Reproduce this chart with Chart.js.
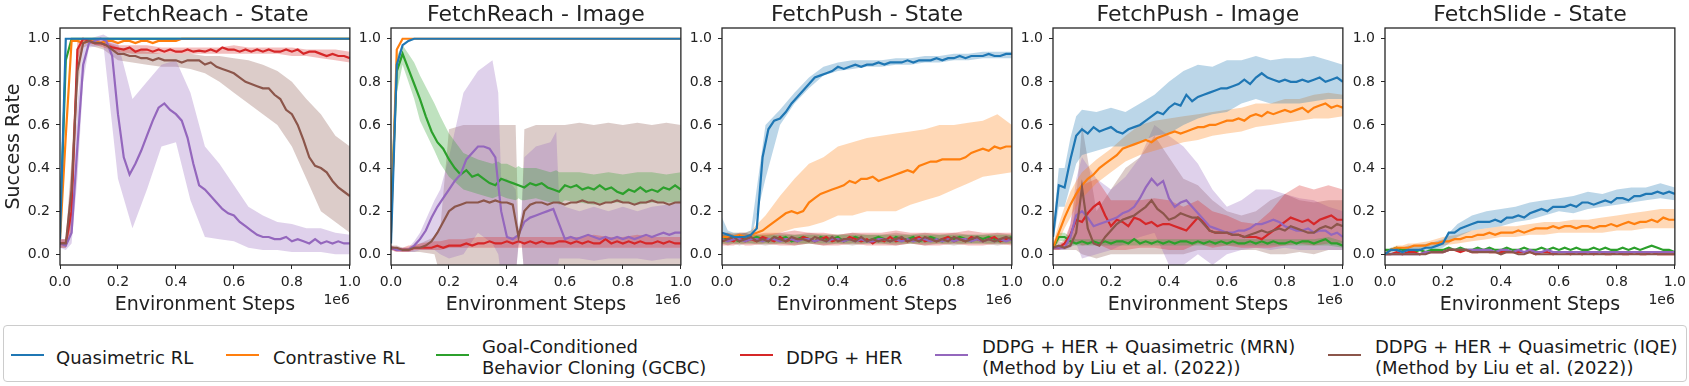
<!DOCTYPE html>
<html>
<head>
<meta charset="utf-8">
<script src="https://cdn.jsdelivr.net/npm/chart.js@4.4.1/dist/chart.umd.min.js"></script>
<style>
  body { margin: 0; background: #fff; width: 1689px; height: 386px; overflow: hidden; position: relative; font-family: "DejaVu Sans", sans-serif; }
  canvas { position: absolute; top: 0; }
  #legend { position: absolute; left: 3px; top: 325px; width: 1682px; height: 55px; border: 1px solid #cccccc; border-radius: 4px; background: #fff; }
  .handle { position: absolute; height: 2px; width: 33px; }
  .ltext { position: absolute; font-size: 18px; line-height: 21px; color: #1a1a1a; white-space: nowrap; }
</style>
</head>
<body>
<div id="legend"></div>
<script>
// grilles x (en millions de pas)
const steps = [
  0, 0.02, 0.04, 0.06, 0.08, 0.1, 0.12, 0.14, 0.16, 0.18,
  0.2, 0.22, 0.24, 0.26, 0.28, 0.3, 0.32, 0.34, 0.36, 0.38,
  0.4, 0.42, 0.44, 0.46, 0.48, 0.5, 0.52, 0.54, 0.56, 0.58,
  0.6, 0.62, 0.64, 0.66, 0.68, 0.7, 0.72, 0.74, 0.76, 0.78,
  0.8, 0.82, 0.84, 0.86, 0.88, 0.9, 0.92, 0.94, 0.96, 0.98,
  1.0
];
const bandSteps = [
  0, 0.02, 0.04, 0.06, 0.08, 0.1, 0.15, 0.2,
  0.25, 0.3, 0.35, 0.4, 0.45, 0.5, 0.55, 0.6,
  0.65, 0.7, 0.75, 0.8, 0.85, 0.9, 0.95, 1.0
];
const bandStepsReachImage = [
  0, 0.02, 0.04, 0.06, 0.08, 0.1, 0.15, 0.17,
  0.2, 0.25, 0.3, 0.35, 0.37, 0.38, 0.4, 0.43,
  0.44, 0.45, 0.46, 0.5, 0.55, 0.57, 0.58, 0.6,
  0.65, 0.7, 0.75, 0.8, 0.85, 0.9, 0.95, 1.0
];

const seriesNames = [
  ['Quasimetric RL'],
  ['Contrastive RL'],
  ['Goal-Conditioned', 'Behavior Cloning (GCBC)'],
  ['DDPG + HER'],
  ['DDPG + HER + Quasimetric (MRN)', '(Method by Liu et al. (2022))'],
  ['DDPG + HER + Quasimetric (IQE)', '(Method by Liu et al. (2022))']
];
const seriesColors = ['#1f77b4', '#ff7f0e', '#2ca02c', '#d62728', '#9467bd', '#8c564b'];
const panelTitles = ['FetchReach - State', 'FetchReach - Image', 'FetchPush - State', 'FetchPush - Image', 'FetchSlide - State'];
const xTicks = [0, 0.2, 0.4, 0.6, 0.8, 1.0];
const yTicks = [0, 0.2, 0.4, 0.6, 0.8, 1.0];
const xLabel = 'Environment Steps';
const xOffsetLabel = '1e6';
const yLabel = 'Success Rate';

// ---- FetchReach - State ----
const reachState_qrl = [
  0.07, 1, 1, 1, 1, 1, 1, 1, 1, 1,
  1, 1, 1, 1, 1, 1, 1, 1, 1, 1,
  1, 1, 1, 1, 1, 1, 1, 1, 1, 1,
  1, 1, 1, 1, 1, 1, 1, 1, 1, 1,
  1, 1, 1, 1, 1, 1, 1, 1, 1, 1,
  1
];
const reachState_crl = [
  0.07, 0.55, 0.99, 0.99, 0.98, 0.99, 0.99, 0.98, 0.99, 0.99,
  0.98, 0.99, 0.99, 0.98, 0.99, 0.99, 0.98, 0.99, 0.99, 0.99,
  0.99, 1, 1, 1, 1, 1, 1, 1, 1, 1,
  1, 1, 1, 1, 1, 1, 1, 1, 1, 1,
  1, 1, 1, 1, 1, 1, 1, 1, 1, 1,
  1
];
const reachState_gcbc = [
  0.1, 0.9, 1, 1, 1, 1, 1, 1, 1, 1,
  1, 1, 1, 1, 1, 1, 1, 1, 1, 1,
  1, 1, 1, 1, 1, 1, 1, 1, 1, 1,
  1, 1, 1, 1, 1, 1, 1, 1, 1, 1,
  1, 1, 1, 1, 1, 1, 1, 1, 1, 1,
  1
];
const reachState_her = [
  0.05, 0.05, 0.2, 0.95, 1, 0.99, 0.98, 0.98, 0.97, 0.96,
  0.955, 0.95, 0.96, 0.94, 0.95, 0.95, 0.94, 0.95, 0.94, 0.95,
  0.94, 0.94, 0.95, 0.94, 0.945, 0.94, 0.95, 0.94, 0.96, 0.95,
  0.95, 0.94, 0.95, 0.94, 0.95, 0.94, 0.95, 0.94, 0.94, 0.95,
  0.94, 0.95, 0.93, 0.94, 0.94, 0.93, 0.92, 0.93, 0.92, 0.92,
  0.91
];
const reachState_mrn = [
  0.05, 0.04, 0.1, 0.5, 0.88, 0.98, 0.99, 1, 0.99, 0.92,
  0.65, 0.45, 0.37, 0.42, 0.48, 0.55, 0.62, 0.68, 0.7, 0.67,
  0.65, 0.62, 0.54, 0.42, 0.32, 0.3, 0.27, 0.24, 0.21, 0.19,
  0.18, 0.15, 0.13, 0.11, 0.09, 0.08, 0.08, 0.07, 0.07, 0.08,
  0.06, 0.07, 0.06, 0.05, 0.07, 0.05, 0.06, 0.05, 0.06, 0.05,
  0.05
];
const reachState_iqe = [
  0.05, 0.05, 0.3, 0.85, 0.98, 0.99, 0.98, 0.98, 0.97, 0.95,
  0.93, 0.93, 0.92, 0.92, 0.91, 0.91, 0.9, 0.91, 0.9, 0.9,
  0.9, 0.89, 0.9, 0.9, 0.9, 0.88, 0.89, 0.87, 0.86, 0.85,
  0.84, 0.82, 0.8, 0.79, 0.78, 0.77, 0.77, 0.74, 0.72, 0.67,
  0.65, 0.6, 0.53, 0.45, 0.41, 0.4, 0.38, 0.34, 0.31, 0.29,
  0.27
];
const reachState_her_lo = [0.03, 0.03, 0.1, 0.9, 0.98, 0.98, 0.96, 0.94, 0.93, 0.93, 0.93, 0.93, 0.93, 0.93, 0.93, 0.93, 0.93, 0.93, 0.93, 0.92, 0.92, 0.91, 0.9, 0.89];
const reachState_her_hi = [0.07, 0.07, 0.4, 1, 1, 1, 0.99, 0.97, 0.97, 0.97, 0.96, 0.96, 0.96, 0.96, 0.96, 0.97, 0.96, 0.96, 0.96, 0.96, 0.95, 0.95, 0.95, 0.94];
const reachState_mrn_lo = [0.03, 0.02, 0.05, 0.35, 0.8, 0.96, 0.97, 0.35, 0.12, 0.3, 0.5, 0.52, 0.25, 0.08, 0.07, 0.06, 0.03, 0.02, 0.02, 0.01, 0.01, 0.01, 0, 0];
const reachState_mrn_hi = [0.07, 0.07, 0.25, 0.7, 0.97, 1, 1.02, 0.98, 0.72, 0.8, 0.88, 0.9, 0.75, 0.5, 0.42, 0.32, 0.22, 0.18, 0.15, 0.14, 0.12, 0.12, 0.1, 0.09];
const reachState_iqe_lo = [0.03, 0.03, 0.15, 0.75, 0.96, 0.97, 0.95, 0.9, 0.89, 0.88, 0.87, 0.87, 0.86, 0.84, 0.8, 0.75, 0.7, 0.65, 0.6, 0.5, 0.35, 0.2, 0.15, 0.1];
const reachState_iqe_hi = [0.07, 0.07, 0.45, 0.95, 1, 1, 0.99, 0.96, 0.95, 0.94, 0.93, 0.93, 0.93, 0.92, 0.92, 0.91, 0.9, 0.88, 0.85, 0.8, 0.72, 0.65, 0.55, 0.5];

// ---- FetchReach - Image ----
const reachImage_qrl = [
  0.05, 0.88, 0.97, 0.99, 1, 1, 1, 1, 1, 1,
  1, 1, 1, 1, 1, 1, 1, 1, 1, 1,
  1, 1, 1, 1, 1, 1, 1, 1, 1, 1,
  1, 1, 1, 1, 1, 1, 1, 1, 1, 1,
  1, 1, 1, 1, 1, 1, 1, 1, 1, 1,
  1
];
const reachImage_crl = [
  0.1, 0.95, 1, 1, 1, 1, 1, 1, 1, 1,
  1, 1, 1, 1, 1, 1, 1, 1, 1, 1,
  1, 1, 1, 1, 1, 1, 1, 1, 1, 1,
  1, 1, 1, 1, 1, 1, 1, 1, 1, 1,
  1, 1, 1, 1, 1, 1, 1, 1, 1, 1,
  1
];
const reachImage_gcbc = [
  0.18, 0.85, 0.93, 0.86, 0.79, 0.72, 0.64, 0.57, 0.52, 0.49,
  0.44, 0.4, 0.37, 0.39, 0.36, 0.37, 0.35, 0.33, 0.32, 0.35,
  0.34, 0.33, 0.32, 0.31, 0.33, 0.32, 0.33, 0.31, 0.3, 0.29,
  0.32, 0.31, 0.32, 0.3, 0.31, 0.3, 0.32, 0.3, 0.31, 0.29,
  0.28, 0.3, 0.29, 0.31, 0.29, 0.3, 0.29, 0.31, 0.3, 0.32,
  0.3
];
const reachImage_her = [
  0.03, 0.02, 0.02, 0.02, 0.03, 0.03, 0.03, 0.03, 0.04, 0.03,
  0.04, 0.04, 0.04, 0.05, 0.04, 0.05, 0.05, 0.06, 0.05, 0.05,
  0.06, 0.05, 0.06, 0.05, 0.06, 0.05, 0.06, 0.05, 0.05, 0.06,
  0.06, 0.05, 0.06, 0.05, 0.06, 0.05, 0.05, 0.07, 0.05, 0.06,
  0.05, 0.06, 0.05, 0.06, 0.05, 0.05, 0.06, 0.05, 0.06, 0.05,
  0.05
];
const reachImage_mrn = [
  0.03, 0.02, 0.02, 0.02, 0.04, 0.07, 0.11, 0.17, 0.22, 0.26,
  0.3, 0.34, 0.37, 0.44, 0.47, 0.5, 0.5, 0.49, 0.45, 0.2,
  0.08, 0.07, 0.09, 0.15, 0.17, 0.18, 0.19, 0.2, 0.21, 0.14,
  0.07, 0.08, 0.07, 0.08, 0.09, 0.08, 0.07, 0.08, 0.07, 0.08,
  0.07, 0.08, 0.07, 0.08, 0.09, 0.08, 0.09, 0.1, 0.09, 0.1,
  0.1
];
const reachImage_iqe = [
  0.03, 0.03, 0.02, 0.02, 0.03, 0.03, 0.04, 0.06, 0.1, 0.15,
  0.2, 0.22, 0.23, 0.24, 0.24, 0.24, 0.25, 0.24, 0.25, 0.24,
  0.24, 0.23, 0.08, 0.2, 0.23, 0.24, 0.24, 0.23, 0.24, 0.24,
  0.23, 0.24, 0.24, 0.25, 0.24, 0.24, 0.23, 0.24, 0.24, 0.25,
  0.24, 0.24, 0.23, 0.24, 0.24, 0.25, 0.24, 0.24, 0.23, 0.24,
  0.24
];
const reachImage_gcbc_lo = [0.12, 0.75, 0.88, 0.8, 0.72, 0.62, 0.48, 0.42, 0.36, 0.3, 0.28, 0.26, 0.27, 0.27, 0.26, 0.25, 0.26, 0.25, 0.25, 0.26, 0.24, 0.24, 0.23, 0.25, 0.24, 0.23, 0.24, 0.24, 0.23, 0.24, 0.24, 0.24];
const reachImage_gcbc_hi = [0.25, 0.92, 0.97, 0.93, 0.89, 0.83, 0.7, 0.64, 0.56, 0.47, 0.44, 0.42, 0.43, 0.42, 0.42, 0.4, 0.41, 0.4, 0.4, 0.4, 0.38, 0.39, 0.38, 0.38, 0.38, 0.37, 0.38, 0.37, 0.38, 0.38, 0.37, 0.38];
const reachImage_her_lo = [0.02, 0.01, 0.01, 0.01, 0.02, 0.02, 0.02, 0.02, 0.03, 0.03, 0.03, 0.03, 0.03, 0.03, 0.03, 0.03, 0.03, 0.03, 0.03, 0.03, 0.03, 0.03, 0.03, 0.03, 0.03, 0.03, 0.03, 0.03, 0.03, 0.03, 0.03, 0.03];
const reachImage_her_hi = [0.04, 0.03, 0.03, 0.04, 0.04, 0.05, 0.06, 0.06, 0.07, 0.07, 0.08, 0.08, 0.08, 0.08, 0.08, 0.08, 0.08, 0.08, 0.08, 0.08, 0.08, 0.08, 0.08, 0.08, 0.08, 0.09, 0.08, 0.08, 0.09, 0.08, 0.08, 0.08];
const reachImage_mrn_lo = [0.02, 0.01, 0.01, 0.01, 0.01, 0.02, 0.02, 0, -0.02, 0, 0.1, 0.05, 0, -0.1, -0.1, -0.1, 0.04, 0.06, -0.1, -0.1, -0.1, -0.1, -0.02, -0.02, -0.02, -0.03, -0.02, -0.02, -0.02, -0.03, -0.02, -0.02];
const reachImage_mrn_hi = [0.04, 0.03, 0.03, 0.03, 0.06, 0.1, 0.25, 0.3, 0.45, 0.75, 0.85, 0.9, 0.75, 0.35, 0.35, 0.3, 0.12, 0.2, 0.45, 0.5, 0.52, 0.57, 0.25, 0.22, 0.2, 0.22, 0.2, 0.22, 0.2, 0.22, 0.23, 0.25];
const reachImage_iqe_lo = [0.02, 0.02, 0.01, 0.01, 0.01, 0.01, 0, -0.1, -0.1, -0.1, -0.1, -0.1, -0.1, -0.1, -0.1, -0.1, 0.05, 0.06, -0.1, -0.1, -0.1, -0.1, -0.1, -0.1, -0.1, -0.1, -0.1, -0.1, -0.1, -0.1, -0.1, -0.1];
const reachImage_iqe_hi = [0.04, 0.04, 0.03, 0.03, 0.04, 0.05, 0.08, 0.12, 0.58, 0.6, 0.6, 0.6, 0.6, 0.6, 0.6, 0.6, 0.1, 0.12, 0.58, 0.6, 0.6, 0.6, 0.6, 0.6, 0.61, 0.6, 0.61, 0.6, 0.61, 0.6, 0.61, 0.6];

// ---- FetchPush - State ----
const pushState_qrl = [
  0.1, 0.09, 0.08, 0.08, 0.08, 0.09, 0.12, 0.45, 0.58, 0.62,
  0.63, 0.66, 0.7, 0.73, 0.76, 0.79, 0.82, 0.83, 0.84, 0.85,
  0.87, 0.86, 0.87, 0.88, 0.87, 0.88, 0.88, 0.89, 0.88, 0.89,
  0.89, 0.89, 0.9, 0.89, 0.9, 0.9, 0.9, 0.91, 0.9, 0.91,
  0.91, 0.92, 0.91, 0.92, 0.92, 0.92, 0.93, 0.92, 0.92, 0.93,
  0.93
];
const pushState_crl = [
  0.08, 0.08, 0.08, 0.09, 0.08, 0.09, 0.1, 0.11, 0.13, 0.15,
  0.17, 0.19, 0.2, 0.19, 0.2, 0.24, 0.26, 0.28, 0.29, 0.3,
  0.31, 0.32, 0.34, 0.33, 0.35, 0.35, 0.36, 0.34, 0.35, 0.36,
  0.37, 0.38, 0.39, 0.38, 0.41, 0.42, 0.43, 0.43, 0.44, 0.44,
  0.44, 0.44, 0.45, 0.47, 0.48, 0.49, 0.48, 0.5, 0.49, 0.5,
  0.5
];
const pushState_gcbc = [
  0.07, 0.08, 0.07, 0.06, 0.08, 0.07, 0.08, 0.07, 0.06, 0.08,
  0.07, 0.08, 0.06, 0.07, 0.08, 0.07, 0.06, 0.08, 0.07, 0.07,
  0.08, 0.06, 0.07, 0.08, 0.07, 0.06, 0.07, 0.08, 0.07, 0.06,
  0.08, 0.07, 0.07, 0.08, 0.06, 0.07, 0.08, 0.07, 0.06, 0.08,
  0.07, 0.08, 0.07, 0.06, 0.08, 0.07, 0.08, 0.07, 0.06, 0.07,
  0.08
];
const pushState_her = [
  0.06, 0.07, 0.06, 0.08, 0.06, 0.07, 0.06, 0.08, 0.07, 0.06,
  0.08, 0.06, 0.07, 0.06, 0.08, 0.07, 0.06, 0.07, 0.08, 0.06,
  0.07, 0.06, 0.08, 0.07, 0.06, 0.07, 0.05, 0.07, 0.06, 0.08,
  0.06, 0.07, 0.06, 0.07, 0.08, 0.06, 0.07, 0.06, 0.07, 0.08,
  0.06, 0.07, 0.06, 0.08, 0.07, 0.06, 0.07, 0.08, 0.06, 0.07,
  0.07
];
const pushState_mrn = [
  0.07, 0.06, 0.07, 0.07, 0.06, 0.07, 0.07, 0.06, 0.07, 0.07,
  0.06, 0.07, 0.07, 0.06, 0.07, 0.07, 0.06, 0.07, 0.06, 0.07,
  0.07, 0.06, 0.07, 0.06, 0.07, 0.06, 0.06, 0.07, 0.07, 0.06,
  0.07, 0.06, 0.07, 0.06, 0.07, 0.07, 0.06, 0.07, 0.06, 0.07,
  0.06, 0.07, 0.07, 0.06, 0.07, 0.06, 0.07, 0.06, 0.07, 0.06,
  0.07
];
const pushState_iqe = [
  0.06, 0.07, 0.08, 0.06, 0.07, 0.08, 0.06, 0.07, 0.06, 0.08,
  0.07, 0.06, 0.08, 0.07, 0.07, 0.06, 0.08, 0.07, 0.06, 0.08,
  0.06, 0.07, 0.07, 0.06, 0.08, 0.06, 0.07, 0.06, 0.07, 0.06,
  0.07, 0.08, 0.06, 0.07, 0.06, 0.08, 0.07, 0.06, 0.07, 0.06,
  0.08, 0.07, 0.06, 0.07, 0.08, 0.06, 0.07, 0.06, 0.07, 0.08,
  0.07
];
const pushState_qrl_lo = [0.06, 0.07, 0.07, 0.07, 0.07, 0.07, 0.35, 0.6, 0.7, 0.77, 0.83, 0.85, 0.86, 0.87, 0.87, 0.88, 0.88, 0.89, 0.89, 0.9, 0.9, 0.91, 0.91, 0.91];
const pushState_qrl_hi = [0.17, 0.11, 0.1, 0.1, 0.1, 0.11, 0.6, 0.67, 0.75, 0.82, 0.87, 0.89, 0.9, 0.9, 0.9, 0.91, 0.91, 0.92, 0.92, 0.93, 0.93, 0.94, 0.94, 0.94];
const pushState_crl_lo = [0.06, 0.06, 0.06, 0.06, 0.07, 0.07, 0.08, 0.1, 0.12, 0.13, 0.15, 0.18, 0.18, 0.2, 0.2, 0.2, 0.23, 0.25, 0.27, 0.3, 0.33, 0.36, 0.37, 0.38];
const pushState_crl_hi = [0.1, 0.1, 0.1, 0.1, 0.1, 0.11, 0.18, 0.27, 0.35, 0.42, 0.45, 0.5, 0.52, 0.54, 0.55, 0.56, 0.57, 0.58, 0.6, 0.6, 0.61, 0.62, 0.65, 0.6];
const pushState_gcbc_lo = [0.05, 0.05, 0.05, 0.05, 0.05, 0.05, 0.05, 0.05, 0.05, 0.05, 0.05, 0.05, 0.05, 0.05, 0.05, 0.05, 0.05, 0.05, 0.05, 0.05, 0.05, 0.05, 0.05, 0.05];
const pushState_gcbc_hi = [0.09, 0.09, 0.09, 0.09, 0.09, 0.09, 0.09, 0.09, 0.09, 0.09, 0.09, 0.09, 0.09, 0.09, 0.09, 0.09, 0.09, 0.09, 0.09, 0.09, 0.09, 0.09, 0.09, 0.09];
const pushState_her_lo = [0.04, 0.04, 0.04, 0.05, 0.04, 0.04, 0.05, 0.04, 0.04, 0.05, 0.04, 0.04, 0.05, 0.04, 0.04, 0.04, 0.05, 0.04, 0.04, 0.05, 0.04, 0.04, 0.05, 0.04];
const pushState_her_hi = [0.1, 0.1, 0.09, 0.1, 0.1, 0.09, 0.1, 0.1, 0.11, 0.1, 0.1, 0.09, 0.1, 0.1, 0.1, 0.11, 0.1, 0.1, 0.1, 0.1, 0.11, 0.1, 0.1, 0.1];
const pushState_iqe_lo = [0.05, 0.04, 0.05, 0.04, 0.05, 0.05, 0.04, 0.05, 0.04, 0.05, 0.04, 0.05, 0.04, 0.05, 0.05, 0.04, 0.05, 0.04, 0.05, 0.04, 0.05, 0.05, 0.04, 0.05];
const pushState_iqe_hi = [0.09, 0.1, 0.09, 0.09, 0.1, 0.09, 0.09, 0.1, 0.09, 0.1, 0.09, 0.09, 0.1, 0.09, 0.09, 0.1, 0.09, 0.1, 0.09, 0.1, 0.09, 0.09, 0.1, 0.09];

// ---- FetchPush - Image ----
const pushImage_qrl = [
  0.08, 0.32, 0.31, 0.44, 0.55, 0.58, 0.56, 0.59, 0.57, 0.58,
  0.59, 0.57, 0.56, 0.58, 0.59, 0.6, 0.62, 0.64, 0.66, 0.65,
  0.68, 0.7, 0.69, 0.74, 0.71, 0.73, 0.74, 0.75, 0.76, 0.77,
  0.77, 0.78, 0.79, 0.81, 0.79, 0.82, 0.84, 0.82, 0.81, 0.8,
  0.81, 0.8, 0.8, 0.81, 0.8, 0.81, 0.82, 0.8, 0.81, 0.82,
  0.8
];
const pushImage_crl = [
  0.03, 0.1, 0.17, 0.23, 0.28, 0.32, 0.35, 0.37, 0.4, 0.42,
  0.44, 0.46, 0.49, 0.5, 0.51, 0.52, 0.53, 0.52, 0.54, 0.55,
  0.56, 0.57, 0.56, 0.57, 0.58, 0.59, 0.59, 0.6, 0.6, 0.61,
  0.62, 0.62, 0.63, 0.62, 0.64, 0.65, 0.64, 0.66, 0.65, 0.66,
  0.67, 0.66, 0.67, 0.68, 0.66, 0.68, 0.69, 0.7, 0.68, 0.69,
  0.68
];
const pushImage_gcbc = [
  0.03, 0.08, 0.08, 0.06, 0.05, 0.06, 0.05, 0.06, 0.05, 0.06,
  0.05, 0.06, 0.06, 0.05, 0.07, 0.05, 0.06, 0.05, 0.06, 0.05,
  0.06, 0.05, 0.06, 0.06, 0.05, 0.06, 0.05, 0.06, 0.05, 0.06,
  0.05, 0.06, 0.05, 0.05, 0.06, 0.05, 0.06, 0.05, 0.06, 0.05,
  0.05, 0.06, 0.05, 0.06, 0.06, 0.05, 0.06, 0.07, 0.05, 0.05,
  0.04
];
const pushImage_her = [
  0.03, 0.03, 0.05, 0.09, 0.16, 0.15, 0.19, 0.22, 0.24, 0.18,
  0.13, 0.16, 0.15, 0.13, 0.17, 0.16, 0.14, 0.15, 0.13, 0.14,
  0.14, 0.13, 0.12, 0.11, 0.14, 0.17, 0.15, 0.11, 0.1, 0.1,
  0.1, 0.09, 0.09, 0.08, 0.08, 0.08, 0.07, 0.09, 0.11, 0.13,
  0.15, 0.17, 0.16, 0.15, 0.16, 0.14, 0.16, 0.17, 0.18, 0.16,
  0.16
];
const pushImage_mrn = [
  0.03, 0.03, 0.03, 0.08, 0.18, 0.2, 0.17, 0.13, 0.14, 0.15,
  0.16, 0.17, 0.19, 0.2, 0.22, 0.26, 0.31, 0.35, 0.32, 0.34,
  0.26, 0.22, 0.24, 0.25, 0.22, 0.19, 0.16, 0.13, 0.12, 0.11,
  0.1, 0.1, 0.11, 0.11, 0.12, 0.14, 0.14, 0.15, 0.16, 0.15,
  0.13, 0.12, 0.11, 0.11, 0.12, 0.1, 0.11, 0.11, 0.09, 0.1,
  0.08
];
const pushImage_iqe = [
  0.03, 0.04, 0.03, 0.04, 0.1, 0.31, 0.12, 0.05, 0.04, 0.08,
  0.11, 0.14, 0.16, 0.17, 0.18, 0.2, 0.22, 0.25, 0.21, 0.19,
  0.16, 0.17, 0.19, 0.18, 0.17, 0.17, 0.14, 0.11, 0.1, 0.1,
  0.1, 0.09, 0.09, 0.08, 0.09, 0.1, 0.11, 0.1, 0.11, 0.12,
  0.11, 0.13, 0.12, 0.11, 0.1, 0.1, 0.12, 0.13, 0.12, 0.14,
  0.13
];
const pushImage_qrl_lo = [0.05, 0.22, 0.22, 0.32, 0.42, 0.46, 0.48, 0.5, 0.5, 0.52, 0.55, 0.56, 0.6, 0.63, 0.65, 0.66, 0.7, 0.72, 0.7, 0.7, 0.7, 0.71, 0.72, 0.72];
const pushImage_qrl_hi = [0.12, 0.4, 0.4, 0.54, 0.64, 0.67, 0.66, 0.68, 0.66, 0.7, 0.74, 0.8, 0.85, 0.88, 0.87, 0.9, 0.9, 0.92, 0.9, 0.91, 0.91, 0.92, 0.9, 0.88];
const pushImage_crl_lo = [0.02, 0.06, 0.12, 0.17, 0.22, 0.26, 0.33, 0.38, 0.43, 0.46, 0.48, 0.5, 0.52, 0.53, 0.55, 0.56, 0.57, 0.59, 0.6, 0.61, 0.62, 0.63, 0.63, 0.64];
const pushImage_crl_hi = [0.05, 0.14, 0.22, 0.29, 0.34, 0.38, 0.44, 0.49, 0.55, 0.6, 0.62, 0.63, 0.64, 0.65, 0.66, 0.67, 0.68, 0.7, 0.7, 0.72, 0.72, 0.74, 0.75, 0.74];
const pushImage_gcbc_lo = [0.02, 0.06, 0.06, 0.04, 0.04, 0.04, 0.04, 0.04, 0.04, 0.04, 0.04, 0.04, 0.04, 0.04, 0.04, 0.04, 0.04, 0.04, 0.04, 0.04, 0.04, 0.04, 0.04, 0.03];
const pushImage_gcbc_hi = [0.04, 0.1, 0.1, 0.08, 0.07, 0.07, 0.07, 0.07, 0.07, 0.07, 0.07, 0.07, 0.07, 0.07, 0.07, 0.07, 0.07, 0.07, 0.07, 0.07, 0.07, 0.07, 0.08, 0.06];
const pushImage_her_lo = [0.02, 0.02, 0.03, 0.04, 0.06, 0.04, 0.05, 0.02, 0.02, 0.03, 0.03, 0.02, 0.02, 0.05, 0.03, 0.04, 0.03, 0.03, 0.03, 0.04, 0.05, 0.04, 0.05, 0.05];
const pushImage_her_hi = [0.04, 0.04, 0.07, 0.14, 0.3, 0.32, 0.35, 0.25, 0.25, 0.25, 0.26, 0.25, 0.22, 0.25, 0.2, 0.18, 0.15, 0.14, 0.2, 0.28, 0.32, 0.3, 0.32, 0.3];
const pushImage_mrn_lo = [0.02, 0.02, 0.02, 0.03, 0.05, -0.02, 0, 0.02, 0.05, 0.08, 0.1, -0.05, -0.05, 0, -0.05, 0, 0.02, 0.03, 0.02, 0.03, 0.02, 0.02, 0.02, 0.02];
const pushImage_mrn_hi = [0.04, 0.04, 0.04, 0.14, 0.35, 0.45, 0.35, 0.3, 0.36, 0.45, 0.6, 0.55, 0.5, 0.42, 0.3, 0.22, 0.25, 0.3, 0.3, 0.28, 0.26, 0.25, 0.22, 0.2];
const pushImage_iqe_lo = [0.02, 0.02, 0.02, 0.02, 0.02, 0, -0.02, 0, 0, 0, 0, 0, 0, 0.02, 0.02, 0.02, 0.02, 0.02, 0, 0, 0.01, 0, 0.02, 0.02];
const pushImage_iqe_hi = [0.04, 0.06, 0.05, 0.06, 0.25, 0.6, 0.2, 0.3, 0.4, 0.45, 0.55, 0.45, 0.35, 0.32, 0.25, 0.2, 0.18, 0.2, 0.25, 0.28, 0.25, 0.24, 0.25, 0.25];

// ---- FetchSlide - State ----
const slideState_qrl = [
  0, 0.02, 0.02, 0.01, 0.02, 0.02, 0.02, 0.03, 0.03, 0.04,
  0.05, 0.1, 0.1, 0.12, 0.13, 0.14, 0.15, 0.15, 0.15, 0.16,
  0.15, 0.17, 0.17, 0.18, 0.17, 0.19, 0.2, 0.21, 0.2, 0.22,
  0.22, 0.22, 0.23, 0.22, 0.24, 0.24, 0.23, 0.24, 0.25, 0.24,
  0.26, 0.26, 0.25, 0.27, 0.27, 0.28, 0.28, 0.29, 0.28, 0.29,
  0.28
];
const slideState_crl = [
  0, 0.02, 0.03, 0.03, 0.03, 0.04, 0.04, 0.04, 0.05, 0.05,
  0.06, 0.06, 0.07, 0.07, 0.08, 0.08, 0.09, 0.09, 0.1, 0.09,
  0.1, 0.1, 0.1, 0.11, 0.1, 0.11, 0.12, 0.12, 0.12, 0.13,
  0.12, 0.13, 0.13, 0.12, 0.13, 0.13, 0.12, 0.13, 0.13, 0.14,
  0.13, 0.14, 0.15, 0.14, 0.15, 0.15, 0.16, 0.15, 0.17, 0.16,
  0.16
];
const slideState_gcbc = [
  0.02, 0.02, 0.03, 0.02, 0.02, 0.01, 0.02, 0.01, 0.02, 0.02,
  0.02, 0.03, 0.02, 0.03, 0.02, 0.02, 0.03, 0.02, 0.03, 0.02,
  0.02, 0.03, 0.02, 0.02, 0.03, 0.02, 0.02, 0.03, 0.02, 0.03,
  0.02, 0.03, 0.02, 0.03, 0.02, 0.02, 0.03, 0.02, 0.03, 0.02,
  0.02, 0.03, 0.02, 0.03, 0.02, 0.03, 0.04, 0.03, 0.02, 0.02,
  0.01
];
const slideState_her = [
  0, 0, 0.01, 0, 0.01, 0.01, 0, 0.01, 0.01, 0.01,
  0.01, 0.02, 0.02, 0.01, 0.02, 0.01, 0.01, 0.02, 0.01, 0.01,
  0.01, 0.01, 0.01, 0.01, 0.01, 0.01, 0, 0.01, 0.01, 0,
  0.01, 0.01, 0, 0.01, 0, 0.01, 0, 0.01, 0, 0,
  0.01, 0, 0, 0.01, 0, 0, 0.01, 0, 0, 0,
  0
];
const slideState_mrn = [
  0, 0, 0, 0, 0, 0, 0, 0.01, 0.01, 0.01,
  0.01, 0.02, 0.02, 0.02, 0.02, 0.02, 0.02, 0.02, 0.02, 0.01,
  0.02, 0.02, 0.01, 0.02, 0.01, 0.02, 0.01, 0.01, 0.02, 0.01,
  0.01, 0.01, 0.01, 0.01, 0.01, 0.01, 0.01, 0.01, 0.01, 0.01,
  0.01, 0.01, 0.01, 0.01, 0.01, 0.01, 0.01, 0.01, 0.01, 0.01,
  0.01
];
const slideState_iqe = [
  0, 0, 0, 0, 0, 0, 0, 0, 0.01, 0.01,
  0.01, 0.02, 0.02, 0.02, 0.02, 0.01, 0.01, 0.01, 0.01, 0.01,
  0, 0.01, 0.01, 0, 0, 0.01, 0, 0, 0, 0,
  0, 0, 0, 0, 0, 0, 0, 0, 0, 0,
  0, 0, 0, 0, 0, 0, 0, 0, 0, 0,
  0
];
const slideState_qrl_lo = [0, 0, 0, 0, 0, 0.01, 0.02, 0.03, 0.08, 0.11, 0.12, 0.13, 0.15, 0.16, 0.18, 0.2, 0.19, 0.21, 0.22, 0.23, 0.24, 0.25, 0.26, 0.25];
const slideState_qrl_hi = [0.01, 0.03, 0.03, 0.03, 0.04, 0.04, 0.05, 0.07, 0.14, 0.18, 0.2, 0.21, 0.22, 0.24, 0.25, 0.26, 0.27, 0.29, 0.28, 0.3, 0.31, 0.31, 0.33, 0.31];
const slideState_crl_lo = [0, 0.01, 0.02, 0.02, 0.02, 0.02, 0.03, 0.04, 0.05, 0.06, 0.07, 0.08, 0.08, 0.09, 0.09, 0.1, 0.1, 0.1, 0.1, 0.11, 0.11, 0.12, 0.12, 0.12];
const slideState_crl_hi = [0.01, 0.03, 0.04, 0.04, 0.05, 0.05, 0.06, 0.08, 0.09, 0.11, 0.12, 0.13, 0.13, 0.14, 0.15, 0.15, 0.16, 0.16, 0.17, 0.18, 0.19, 0.2, 0.21, 0.21];

// placement des panneaux (bord gauche de la zone de tracé)
const plotLefts = [60, 391, 722, 1053, 1385];
const plotWidth = 290;
const axisWidth = 60;
const rightPad = 16;
const canvasHeight = 320;

const panels = [
  { lines: [reachState_qrl, reachState_crl, reachState_gcbc, reachState_her, reachState_mrn, reachState_iqe],
    bandX: bandSteps,
    bands: { 3: [reachState_her_lo, reachState_her_hi], 4: [reachState_mrn_lo, reachState_mrn_hi], 5: [reachState_iqe_lo, reachState_iqe_hi] } },
  { lines: [reachImage_qrl, reachImage_crl, reachImage_gcbc, reachImage_her, reachImage_mrn, reachImage_iqe],
    bandX: bandStepsReachImage,
    bands: { 2: [reachImage_gcbc_lo, reachImage_gcbc_hi], 3: [reachImage_her_lo, reachImage_her_hi], 4: [reachImage_mrn_lo, reachImage_mrn_hi], 5: [reachImage_iqe_lo, reachImage_iqe_hi] } },
  { lines: [pushState_qrl, pushState_crl, pushState_gcbc, pushState_her, pushState_mrn, pushState_iqe],
    bandX: bandSteps,
    bands: { 0: [pushState_qrl_lo, pushState_qrl_hi], 1: [pushState_crl_lo, pushState_crl_hi], 2: [pushState_gcbc_lo, pushState_gcbc_hi], 3: [pushState_her_lo, pushState_her_hi], 5: [pushState_iqe_lo, pushState_iqe_hi] } },
  { lines: [pushImage_qrl, pushImage_crl, pushImage_gcbc, pushImage_her, pushImage_mrn, pushImage_iqe],
    bandX: bandSteps,
    bands: { 0: [pushImage_qrl_lo, pushImage_qrl_hi], 1: [pushImage_crl_lo, pushImage_crl_hi], 2: [pushImage_gcbc_lo, pushImage_gcbc_hi], 3: [pushImage_her_lo, pushImage_her_hi], 4: [pushImage_mrn_lo, pushImage_mrn_hi], 5: [pushImage_iqe_lo, pushImage_iqe_hi] } },
  { lines: [slideState_qrl, slideState_crl, slideState_gcbc, slideState_her, slideState_mrn, slideState_iqe],
    bandX: bandSteps,
    bands: { 0: [slideState_qrl_lo, slideState_qrl_hi], 1: [slideState_crl_lo, slideState_crl_hi] } }
];

// ordre de dessin : plus petit = au-dessus
const lineOrder = [0, 4, 5, 3, 2, 1];

const inkColor = '#222222';
const fontFamily = '"DejaVu Sans", sans-serif';

function pts(xs, ys) {
  return xs.map((x, i) => ({ x: x, y: ys[i] })).filter(p => p.y !== undefined);
}

function withAlpha(hex, a) {
  const n = parseInt(hex.slice(1), 16);
  return 'rgba(' + (n >> 16) + ',' + ((n >> 8) & 255) + ',' + (n & 255) + ',' + a + ')';
}

// cadre + textes du panneau
const panelDecor = {
  id: 'panelDecor',
  afterDraw(chart, args, opts) {
    const ctx = chart.ctx;
    const a = chart.chartArea;
    const cx = (a.left + a.right) / 2;
    ctx.save();
    ctx.strokeStyle = '#262626';
    ctx.lineWidth = 1.3;
    ctx.strokeRect(a.left, a.top, a.right - a.left, a.bottom - a.top);

    ctx.fillStyle = inkColor;
    ctx.textBaseline = 'alphabetic';
    ctx.textAlign = 'center';
    ctx.font = '22px ' + fontFamily;
    ctx.fillText(opts.title, cx, 21);
    ctx.font = '19px ' + fontFamily;
    ctx.fillText(xLabel, cx, 310);
    ctx.textAlign = 'right';
    ctx.font = '14px ' + fontFamily;
    ctx.fillText(xOffsetLabel, a.right, 304);
    if (opts.showYLabel) {
      ctx.translate(18.5, (a.top + a.bottom) / 2);
      ctx.rotate(-Math.PI / 2);
      ctx.textAlign = 'center';
      ctx.font = '19px ' + fontFamily;
      ctx.fillText(yLabel, 0, 0);
    }
    ctx.restore();
  }
};

panels.forEach((panel, p) => {
  const canvas = document.createElement('canvas');
  canvas.width = axisWidth + plotWidth + rightPad;
  canvas.height = canvasHeight;
  canvas.style.left = (plotLefts[p] - axisWidth) + 'px';
  document.body.appendChild(canvas);

  const datasets = [];
  Object.keys(panel.bands).forEach(k => {
    const s = Number(k);
    const [lo, hi] = panel.bands[k];
    datasets.push({
      data: pts(panel.bandX, lo), borderColor: 'rgba(0,0,0,0)', borderWidth: 0,
      pointRadius: 0, fill: false, order: 20 + s
    });
    datasets.push({
      data: pts(panel.bandX, hi), borderColor: 'rgba(0,0,0,0)', borderWidth: 0,
      pointRadius: 0, fill: '-1', backgroundColor: withAlpha(seriesColors[s], 0.3), order: 20 + s
    });
  });
  panel.lines.forEach((ys, s) => {
    datasets.push({
      data: pts(steps, ys), borderColor: seriesColors[s], borderWidth: 2.2,
      pointRadius: 0, fill: false, order: lineOrder[s]
    });
  });

  const tickFont = { family: fontFamily, size: 14 };

  new Chart(canvas, {
    type: 'line',
    data: { datasets: datasets },
    plugins: [panelDecor],
    options: {
      responsive: false,
      animation: false,
      events: [],
      layout: { padding: { top: 28, right: rightPad, bottom: 0, left: 0 } },
      elements: { line: { tension: 0 } },
      plugins: {
        legend: { display: false },
        tooltip: { enabled: false },
        panelDecor: { title: panelTitles[p], showYLabel: p === 0 }
      },
      scales: {
        x: {
          type: 'linear', min: 0, max: 1,
          afterBuildTicks: s => { s.ticks = xTicks.map(v => ({ value: v })); },
          afterFit: s => { s.height = canvasHeight - 265; },
          grid: { display: true, drawOnChartArea: false, drawTicks: true, tickLength: 4, color: '#262626' },
          border: { display: false },
          ticks: { font: tickFont, color: inkColor, padding: 5, maxRotation: 0, autoSkip: false, callback: v => v.toFixed(1) }
        },
        y: {
          type: 'linear', min: -0.05, max: 1.05,
          afterBuildTicks: s => { s.ticks = yTicks.map(v => ({ value: v })); },
          afterFit: s => { s.width = axisWidth; },
          grid: { display: true, drawOnChartArea: false, drawTicks: true, tickLength: 4, color: '#262626' },
          border: { display: false },
          ticks: { font: tickFont, color: inkColor, padding: 6, callback: v => v.toFixed(1) }
        }
      }
    }
  });
});

// légende commune (HTML)
const legendHandleX = [11, 226, 436, 740, 935, 1328];
const legendTextX = [56, 273, 482, 786, 982, 1375];
const legend = document.getElementById('legend');
seriesNames.forEach((lines, s) => {
  const h = document.createElement('div');
  h.className = 'handle';
  h.style.background = seriesColors[s];
  h.style.left = (legendHandleX[s] - 4) + 'px';
  h.style.top = '28px';
  legend.appendChild(h);
  const t = document.createElement('div');
  t.className = 'ltext';
  t.style.left = (legendTextX[s] - 4) + 'px';
  t.style.top = (lines.length > 1 ? 9.5 : 20.5) + 'px';
  t.innerHTML = lines.join('<br>');
  legend.appendChild(t);
});
</script>
</body>
</html>
